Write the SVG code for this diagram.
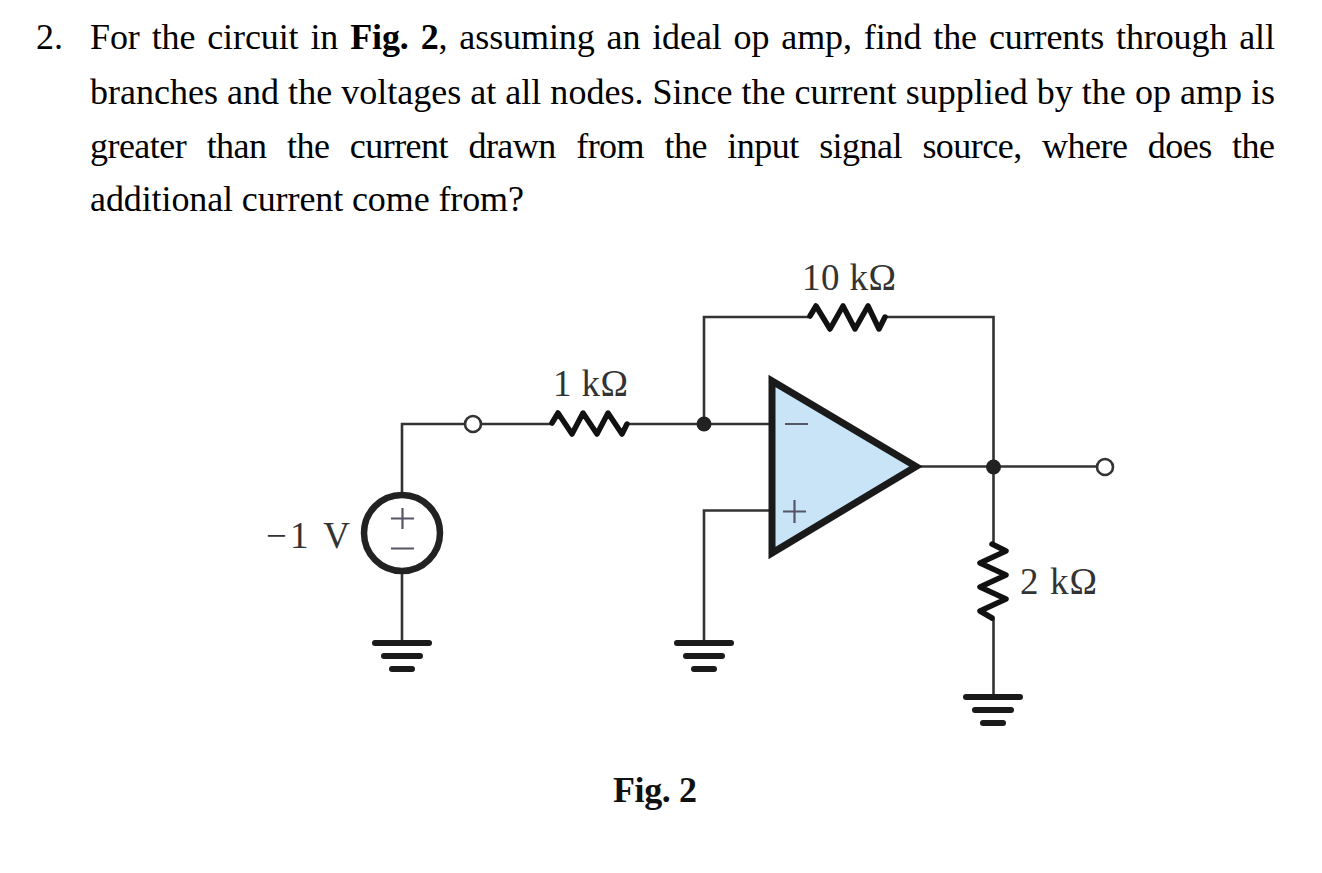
<svg xmlns="http://www.w3.org/2000/svg" width="1322" height="873" viewBox="0 0 1322 873">
<style>
text{font-family:"Liberation Serif","Times New Roman",serif;fill:#111}
.q{font-size:36px;fill:#000}
.l{font-size:37px;fill:#333}
.b{font-weight:bold}
.w{fill:none;stroke:#333;stroke-width:2.6}
.r{fill:none;stroke:#111;stroke-width:5.5;stroke-linejoin:round;stroke-linecap:round}
.g{stroke:#1a1a1a;stroke-width:6;stroke-linecap:round}
.o{fill:#fff;stroke:#333;stroke-width:2.6}
.d{fill:#222}
.s{stroke:#556;stroke-width:2.2;fill:none}
</style>
<defs>
<g id="gnd"><line class="g" x1="-27" y1="0" x2="27" y2="0"/><line class="g" x1="-18" y1="13" x2="18" y2="13"/><line class="g" x1="-10" y1="26" x2="10" y2="26"/></g>
</defs>
<rect width="1322" height="873" fill="#fff"/>
<g id="question">
<text class="q" x="36" y="49">2.</text>
<text class="q" x="90" y="49" textLength="1185" lengthAdjust="spacing" style="word-spacing:3px">For the circuit in <tspan class="b">Fig. 2</tspan>, assuming an ideal op amp, find the currents through all</text>
<text class="q" x="90" y="104" textLength="1185" lengthAdjust="spacing">branches and the voltages at all nodes. Since the current supplied by the op amp is</text>
<text class="q" x="90" y="158" textLength="1185" lengthAdjust="spacing" style="word-spacing:12px">greater than the current drawn from the input signal source, where does the</text>
<text class="q" x="90" y="211" textLength="434" lengthAdjust="spacing">additional current come from?</text>
</g>
<g id="connectors">
<path class="w" d="M402 492V424H465M481 424H552M628 424H772"/>
<path class="w" d="M704 424V317H810M885 317H993.500V467"/>
<path class="w" d="M772 510.500H704V643"/>
<path class="w" d="M918 466.500H1097"/>
<path class="w" d="M993.500 467V544M993.500 618V697"/>
<path class="w" d="M402 574V643"/>
</g>
<g id="source">
<circle cx="402" cy="533" r="38" fill="#fff" stroke="#222" stroke-width="6.500"/>
<path class="s" d="M391 518.500H414M402.500 508V529M391 548.500H414"/>
<text class="l" x="266" y="548" textLength="84">−1 V</text>
</g>
<g id="r1">
<path class="r" d="M552 423L558 413L572 434L583 413L597 434L608 413L622 434L627 424"/>
<text class="l" x="553" y="396" textLength="75">1 kΩ</text>
</g>
<g id="r2">
<path class="r" d="M810 316L816 306L830 329L843 306L855 329L868 306L879 329L885 317"/>
<text class="l" x="802" y="290" textLength="94">10 kΩ</text>
</g>
<g id="r3">
<path class="r" d="M992 544L1006 551L980 563L1006 575L980 587L1006 599L980 611L992 618"/>
<text class="l" x="1020" y="594" textLength="77">2 kΩ</text>
</g>
<g id="opamp">
<polygon points="772,381 772,553 916,466.500" fill="#c9e4f7" stroke="#1a1a1a" stroke-width="7" stroke-linejoin="miter"/>
<path class="s" d="M785 424H808M783 511.500H806M794.500 500V523"/>
</g>
<g id="in-term"><circle class="o" cx="473" cy="424" r="8"/></g>
<g id="out-term"><circle class="o" cx="1105" cy="467" r="8"/></g>
<g id="node-a"><circle class="d" cx="704" cy="424" r="7.500"/></g>
<g id="node-b"><circle class="d" cx="993.500" cy="467" r="7.500"/></g>
<g id="gnd1"><use href="#gnd" x="402" y="643"/></g>
<g id="gnd2"><use href="#gnd" x="704" y="643"/></g>
<g id="gnd3"><use href="#gnd" x="993" y="697"/></g>
<g id="caption"><text class="b" x="613" y="802" font-size="36" textLength="84">Fig. 2</text></g>
</svg>
